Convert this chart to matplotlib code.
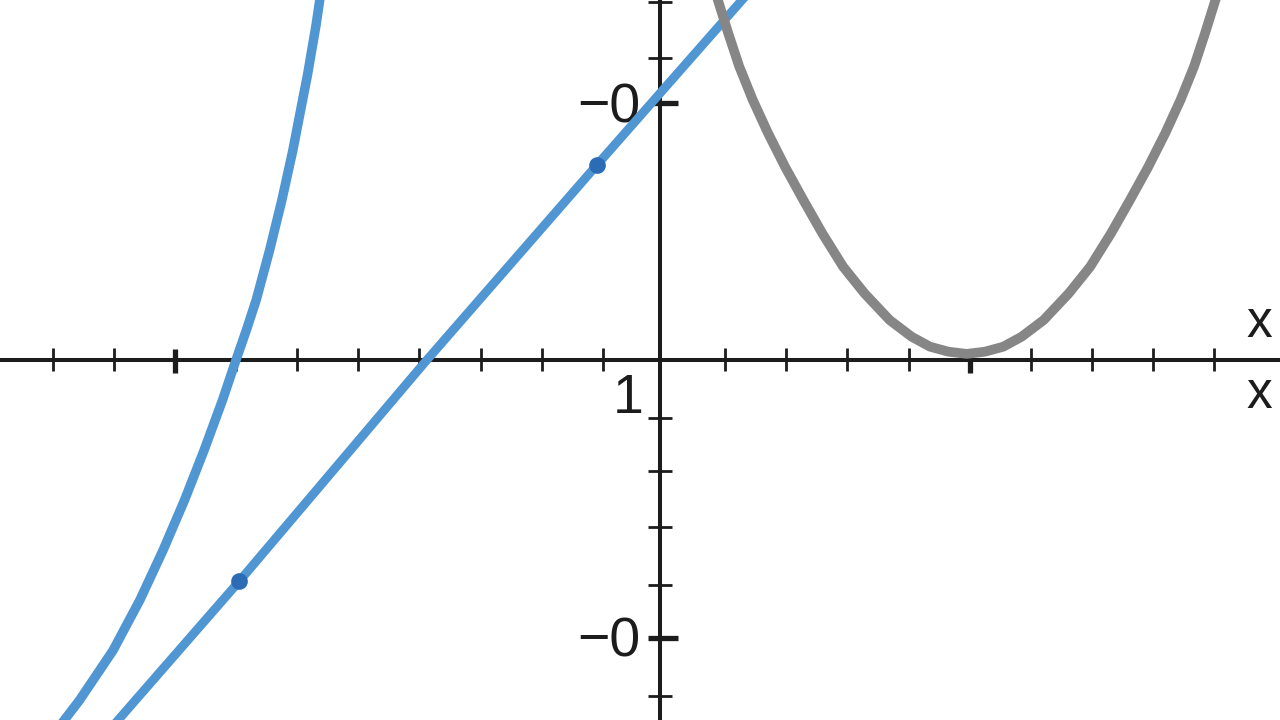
import matplotlib.pyplot as plt

plt.rcParams['font.family'] = ['Liberation Sans', 'DejaVu Sans']

# values (x in tick units, y in tick units)
line_x = [-8.93, -6.95, -3.91, -1.10, 1.28]
line_y = [-6.49, -3.99, -0.04, 3.51, 6.49]

dot_x = [-6.95, -1.10]
dot_y = [-3.99, 3.51]

steep_x = [-5.63, -5.69, -5.76, -5.83, -5.91, -6.07, -6.25, -6.45, -6.67,
           -6.83, -7.00, -7.22, -7.52, -7.84, -8.19, -8.57, -9.01, -9.56, -9.81]
steep_y = [6.49, 6.04, 5.59, 5.14, 4.69, 3.78, 2.88, 1.98, 1.08,
           0.54, 0.0, -0.72, -1.62, -2.52, -3.42, -4.32, -5.23, -6.13, -6.49]

parab_x = [0.88, 1.05, 1.23, 1.45, 1.70, 1.98, 2.28, 2.59, 2.93, 3.28,
           3.69, 4.05, 4.35, 4.65, 4.95, 5.25, 5.55, 5.85, 6.21, 6.62,
           6.97, 7.31, 7.62, 7.92, 8.20, 8.45, 8.67, 8.85, 9.02]
parab_y = [6.49, 5.89, 5.29, 4.69, 4.09, 3.48, 2.88, 2.28, 1.68, 1.20,
           0.72, 0.42, 0.24, 0.15, 0.11, 0.15, 0.24, 0.42, 0.72, 1.20,
           1.68, 2.28, 2.88, 3.48, 4.09, 4.69, 5.29, 5.89, 6.49]

xticks_minor = [-10, -9, -7, -6, -5, -4, -3, -2, -1, 1, 2, 3, 4, 6, 7, 8, 9]
xticks_major = [-8, 5]
yticks_minor = [6.45, 5.45, -1.05, -2.0, -3.0, -4.05, -6.05]
yticks_major = [4.63, -5.0]

blue = '#5096d2'
dot_blue = '#2b6cb5'
gray = '#868686'
ink = '#1c1c1c'
yaxis_x = -0.065

fig = plt.figure(figsize=(12.8, 7.2), dpi=100)
ax = fig.add_axes([0, 0, 1, 1])
ax.set_xlim(-10.86, 10.075)
ax.set_ylim(-6.486, 6.486)
ax.axis('off')

# axes
ax.axhline(0, color=ink, lw=2.9, zorder=1)
ax.axvline(yaxis_x, color=ink, lw=2.9, zorder=1)
ax.vlines(xticks_minor, -0.19, 0.22, color=ink, lw=2.0, zorder=1)
ax.vlines(xticks_major, -0.23, 0.2, color=ink, lw=3.8, zorder=1)
ax.hlines(yticks_minor, yaxis_x - 0.2, yaxis_x + 0.2, color=ink, lw=2.0, zorder=1)
ax.hlines(yticks_major, yaxis_x - 0.2, yaxis_x + 0.3, color=ink, lw=3.8, zorder=1)

# labels
ax.text(-0.59, -0.955, '1', fontsize=40, color=ink, ha='center', va='baseline')
ax.text(-0.39, 4.27, '\u22120', fontsize=40, color=ink, ha='right', va='baseline')
ax.text(-0.39, -5.35, '\u22120', fontsize=40, color=ink, ha='right', va='baseline')
ax.text(9.73, 0.42, 'x', fontsize=37, color=ink, ha='center', va='baseline')
ax.text(9.73, -0.87, 'x', fontsize=37, color=ink, ha='center', va='baseline')

# curves
ax.plot(steep_x, steep_y, color=blue, lw=6.8, solid_joinstyle='round', zorder=3)
ax.plot(line_x, line_y, color=blue, lw=6.4, solid_joinstyle='round', zorder=3)
ax.plot(parab_x, parab_y, color=gray, lw=7.0, solid_joinstyle='round', zorder=4)
ax.plot(dot_x, dot_y, 'o', color=dot_blue, ms=12, mew=0, zorder=5)

plt.savefig('out.png', dpi=100)
